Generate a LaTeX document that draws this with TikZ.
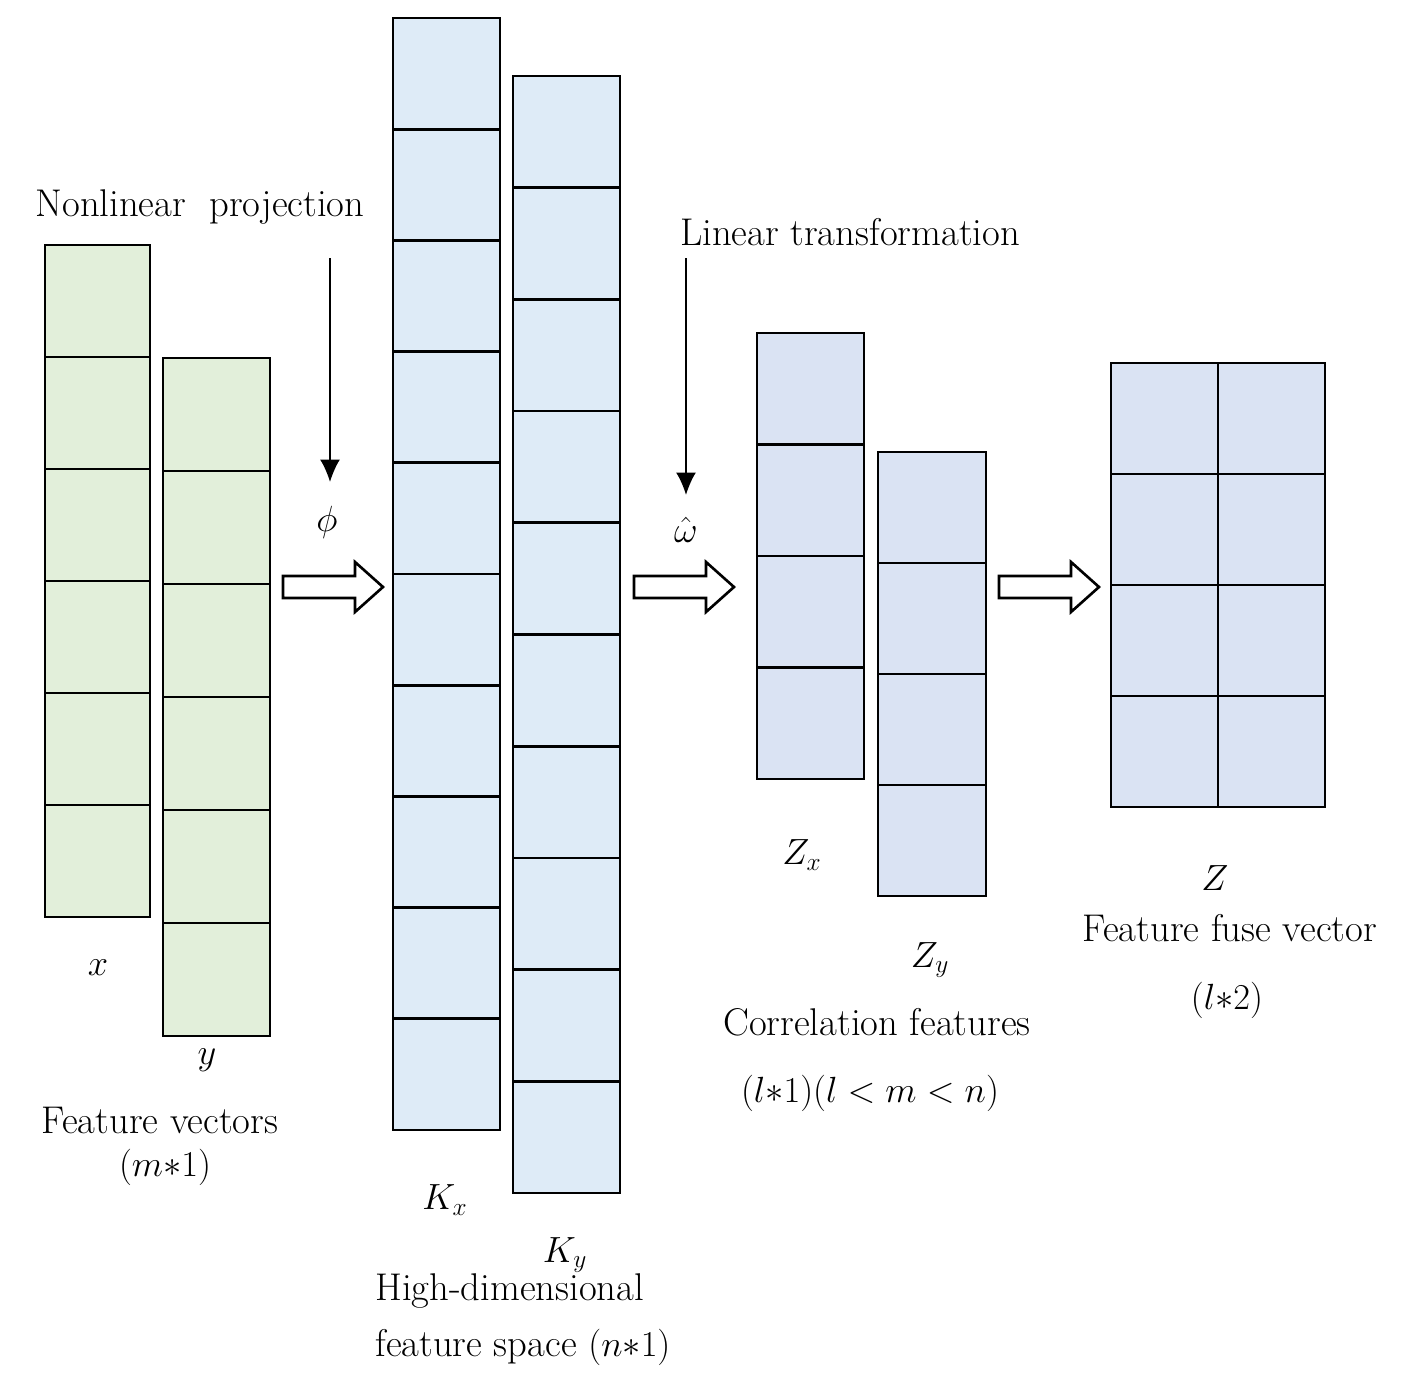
\documentclass[tikz,border=0pt]{standalone}
\usetikzlibrary{arrows.meta}
\begin{document}
\begin{tikzpicture}[x=0.02cm,y=-0.02cm,
  cell/.style={draw=black,line width=1.5pt},
  lab/.style={font=\fontsize{22}{26}\selectfont,inner sep=0pt},
  blk/.style={draw=black,line width=1.5pt,fill=white}]
\definecolor{gr}{HTML}{E2EFDA}\definecolor{kb}{HTML}{DEEBF7}\definecolor{zb}{HTML}{DAE3F3}
\useasboundingbox (0,0) rectangle (1407,1386);
% columns
\foreach \xa/\xb/\ya/\yb/\n/\c in {45/150/245/917/6/gr,163/270/358/1036/6/gr,393/500/18/1130/10/kb,513/620/76/1193/10/kb,757/864/333/779/4/zb,878/986/452/896/4/zb}{
  \fill[\c] (\xa,\ya) rectangle (\xb,\yb);
  \pgfmathsetmacro\h{(\yb-\ya)/\n}
  \foreach \i in {1,...,\numexpr\n-1\relax}{\draw[line width=1.5pt] (\xa,\ya+\i*\h) -- (\xb,\ya+\i*\h);}
  \draw[cell] (\xa,\ya) rectangle (\xb,\yb);
}
\fill[zb] (1111,363) rectangle (1325,807);
\foreach \i in {1,2,3}{\draw[line width=1.5pt] (1111,363+\i*111) -- (1325,363+\i*111);}
\draw[line width=1.5pt] (1218,363) -- (1218,807);
\draw[cell] (1111,363) rectangle (1325,807);
% block arrows
\foreach \s in {283,634,999}{
  \draw[blk] (\s,576) -- (\s+72,576) -- (\s+72,562) -- (\s+100,587) -- (\s+72,612) -- (\s+72,598) -- (\s,598) -- cycle;
}
% top labels and down arrows
\node[lab] (np) at (200,207) {Nonlinear\ \ projection};
\node[lab] (lt) at (850,232) {Linear transformation};
\coordinate (d1) at (330,258); \coordinate (e1) at (330,482);
\coordinate (d2) at (686,258); \coordinate (e2) at (686,495);
\draw[line width=1pt,-{Latex[length=0.45cm,width=0.4cm]}] (d1) -- (e1);
\draw[line width=1pt,-{Latex[length=0.45cm,width=0.4cm]}] (d2) -- (e2);
\node[lab] (phi) at (327,522) {$\phi$};
\node[lab] (om) at (686,530) {$\hat{\omega}$};
% bottom labels
\node[lab] (lx) at (98,968) {$x$};
\node[lab] (ly) at (207,1060) {$y$};
\node[lab] (fv) at (160,1120) {Feature vectors};
\node[lab] (fv2) at (165,1167) {$\bigl(m{*}1\bigr)$};
\node[lab] (kx) at (445,1200) {$K_x$};
\node[lab] (ky) at (565,1255) {$K_y$};
\node[lab,align=left,anchor=west] (hd) at (375,1320) {High-dimensional\\[6pt]feature space $\bigl(n{*}1\bigr)$};
\node[lab] (zx) at (802,855) {$Z_x$};
\node[lab] (zy) at (930,960) {$Z_y$};
\node[lab] (cf) at (877,1022) {Correlation features};
\node[lab] (cf2) at (870,1093) {$\bigl(l{*}1\bigr)(l<m<n)$};
\node[lab] (z) at (1215,878) {$Z$};
\node[lab] (ff) at (1230,928) {Feature fuse vector};
\node[lab] (ff2) at (1227,1000) {$\bigl(l{*}2\bigr)$};
\end{tikzpicture}
\end{document}
